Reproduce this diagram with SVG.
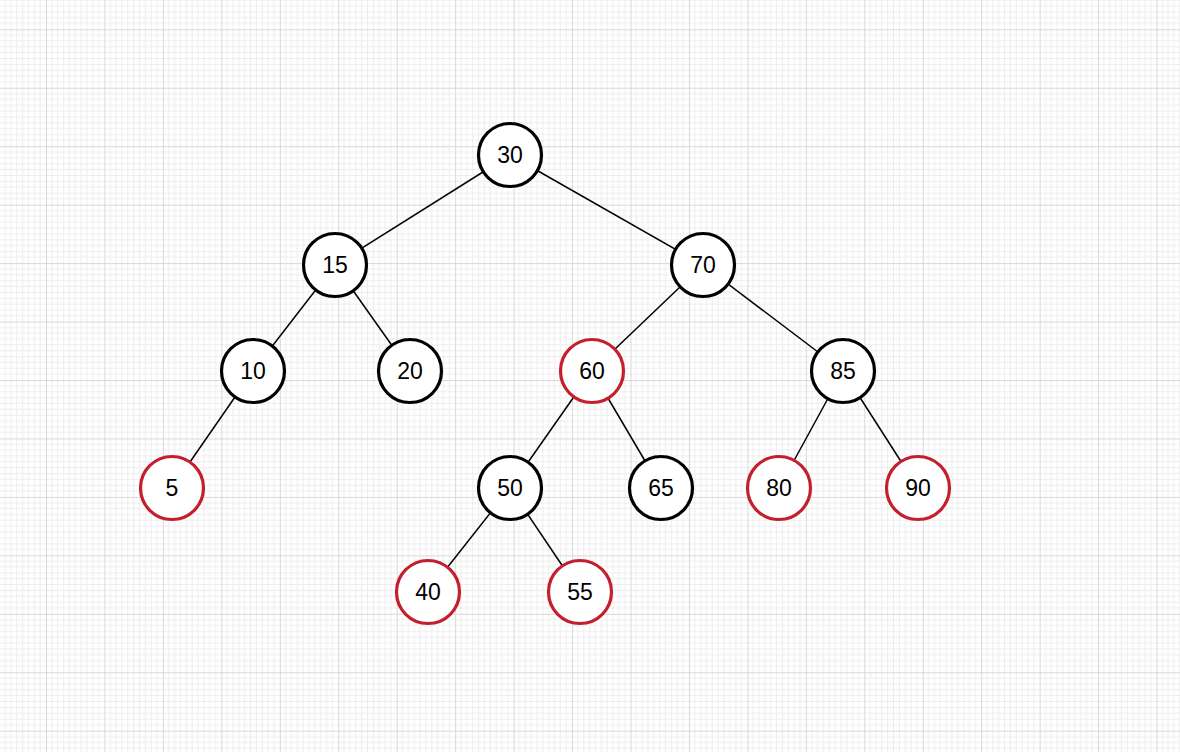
<svg xmlns="http://www.w3.org/2000/svg" width="1180" height="752" viewBox="0 0 1180 752">
<style>
.n circle{fill:#fff;stroke-width:3.2}
.b circle{stroke:#000}
.r circle{stroke:#c41f2c}
.n text{font-family:"Liberation Sans",Arial,sans-serif;font-size:23px;fill:#000;text-anchor:middle}
#edges line{stroke:#000;stroke-width:1.5}
</style>
<defs>
<pattern id="grid" patternUnits="userSpaceOnUse" x="46" y="29.3" width="58.45" height="58.45">
<path d="M5.845 0V58.45M11.69 0V58.45M17.535 0V58.45M23.38 0V58.45M29.225 0V58.45M35.07 0V58.45M40.915 0V58.45M46.76 0V58.45M52.605 0V58.45M0 5.845H58.45M0 11.69H58.45M0 17.535H58.45M0 23.38H58.45M0 29.225H58.45M0 35.07H58.45M0 40.915H58.45M0 46.76H58.45M0 52.605H58.45" stroke="#ededed" stroke-width="1" fill="none"/>
<path d="M0.5 0V58.45M0 0.5H58.45" stroke="#d8d8d8" stroke-width="1" fill="none"/>
</pattern>
</defs>
<rect width="1180" height="752" fill="#fff"/>
<rect width="1180" height="752" fill="url(#grid)"/>
<g id="edges">
<line x1="510" y1="155" x2="335" y2="265"/>
<line x1="510" y1="155" x2="703" y2="265"/>
<line x1="335" y1="265" x2="253" y2="371"/>
<line x1="335" y1="265" x2="410" y2="371"/>
<line x1="703" y1="265" x2="592" y2="371"/>
<line x1="703" y1="265" x2="843" y2="371"/>
<line x1="253" y1="371" x2="172" y2="488"/>
<line x1="592" y1="371" x2="510" y2="488"/>
<line x1="592" y1="371" x2="661" y2="488"/>
<line x1="843" y1="371" x2="779" y2="488"/>
<line x1="843" y1="371" x2="918" y2="488"/>
<line x1="510" y1="488" x2="428" y2="592"/>
<line x1="510" y1="488" x2="580" y2="592"/>
</g>
<g id="n30" class="n b"><circle cx="510" cy="155" r="31.5"/><text x="510" y="163">30</text></g>
<g id="n15" class="n b"><circle cx="335" cy="265" r="31.5"/><text x="335" y="273">15</text></g>
<g id="n70" class="n b"><circle cx="703" cy="265" r="31.5"/><text x="703" y="273">70</text></g>
<g id="n10" class="n b"><circle cx="253" cy="371" r="31.5"/><text x="253" y="379">10</text></g>
<g id="n20" class="n b"><circle cx="410" cy="371" r="31.5"/><text x="410" y="379">20</text></g>
<g id="n60" class="n r"><circle cx="592" cy="371" r="31.5"/><text x="592" y="379">60</text></g>
<g id="n85" class="n b"><circle cx="843" cy="371" r="31.5"/><text x="843" y="379">85</text></g>
<g id="n5" class="n r"><circle cx="172" cy="488" r="31.5"/><text x="172" y="496">5</text></g>
<g id="n50" class="n b"><circle cx="510" cy="488" r="31.5"/><text x="510" y="496">50</text></g>
<g id="n65" class="n b"><circle cx="661" cy="488" r="31.5"/><text x="661" y="496">65</text></g>
<g id="n80" class="n r"><circle cx="779" cy="488" r="31.5"/><text x="779" y="496">80</text></g>
<g id="n90" class="n r"><circle cx="918" cy="488" r="31.5"/><text x="918" y="496">90</text></g>
<g id="n40" class="n r"><circle cx="428" cy="592" r="31.5"/><text x="428" y="600">40</text></g>
<g id="n55" class="n r"><circle cx="580" cy="592" r="31.5"/><text x="580" y="600">55</text></g>
</svg>
